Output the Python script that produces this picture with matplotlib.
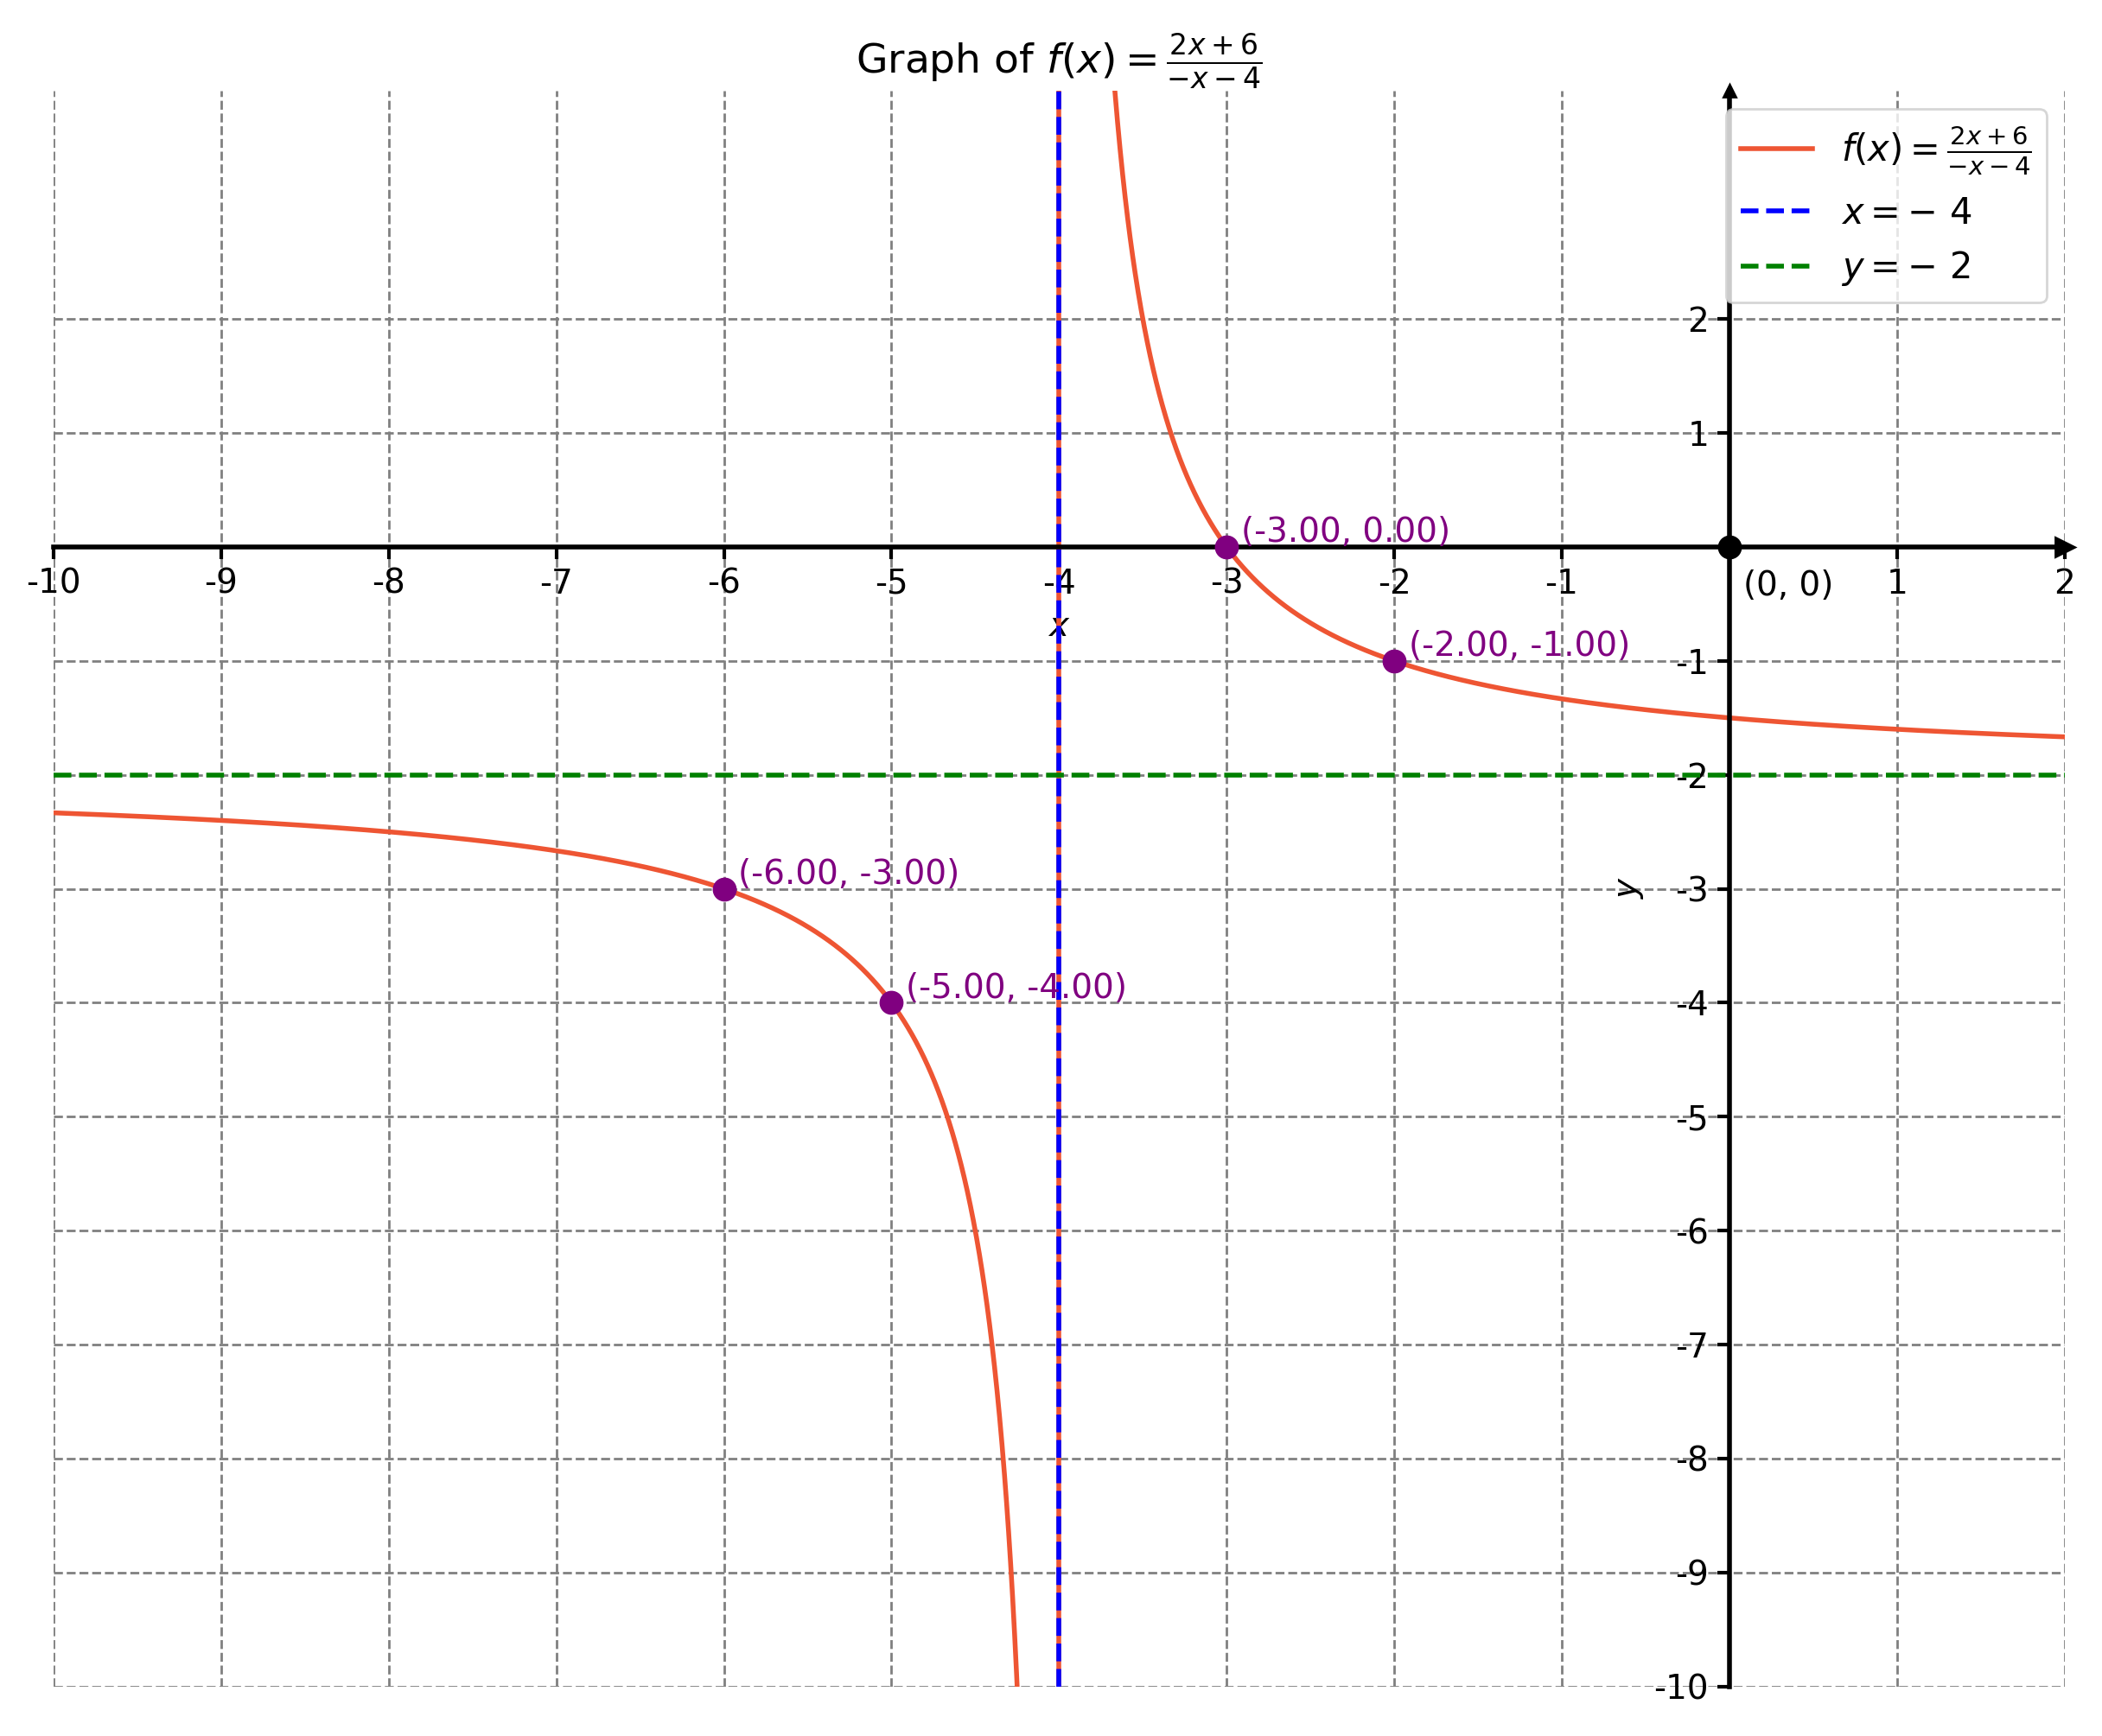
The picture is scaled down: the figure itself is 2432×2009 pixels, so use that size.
import numpy as np
import matplotlib.pyplot as plt

x_left = np.linspace(-10, -4.001, 2000)
x_right = np.linspace(-3.999, 2, 2000)
pts_x = [-3, -2, -6, -5]
pts_y = [0, -1, -3, -4]
xticks = list(range(-10, 3))
yticks = list(range(-10, 3))

def f(x):
    return (2*x + 6) / (-x - 4)

fig = plt.figure(figsize=(12.16, 10.045), dpi=200)
ax = fig.add_axes([40/1568, 1-1258/1295, 1500/1568, 1190/1295])
lab = r'$f(x) = \frac{2x + 6}{-x - 4}$'
ax.plot(x_left, f(x_left), color='#EE5533', lw=2, label=lab)
ax.plot(x_right, f(x_right), color='#EE5533', lw=2)
ax.axvline(-4, color='#EE5533', lw=2)
ax.axvline(-4, color='blue', ls='--', lw=2, label=r'$x = -\ 4$')
ax.axhline(-2, color='green', ls='--', lw=2, label=r'$y = -\ 2$')
for px, py in zip(pts_x, pts_y):
    ax.plot(px, py, 'o', color='purple', ms=9, zorder=5)
    ax.annotate(f'({px:.2f}, {py:.2f})', (px, py), xytext=(6, 2), textcoords='offset points',
                color='purple', fontsize=14)
ax.plot(0, 0, 'o', color='black', ms=9, zorder=5)
ax.annotate('(0, 0)', (0, 0), xytext=(6, -20), textcoords='offset points', fontsize=14)
ax.set_xlim(-10, 2)
ax.set_ylim(-10, 4)
ax.spines['left'].set_position('zero')
ax.spines['bottom'].set_position('zero')
ax.spines['right'].set_visible(False)
ax.spines['top'].set_visible(False)
for s in ['left', 'bottom']:
    ax.spines[s].set_linewidth(2)
ax.plot(1, 0, '>k', transform=ax.get_yaxis_transform(), clip_on=False, ms=8)
ax.plot(0, 1, '^k', transform=ax.get_xaxis_transform(), clip_on=False, ms=5)
ax.set_xticks([t for t in xticks if t != 0])
ax.set_yticks([t for t in yticks if t != 0])
ax.set_xticklabels([str(t) for t in xticks if t != 0], fontsize=14)
ax.set_yticklabels([str(t) for t in yticks if t != 0], fontsize=14)
ax.tick_params(width=1.5, length=5)
ax.grid(True, ls='--', color='gray', lw=1)
ax.set_xlabel('x', fontsize=14, style='italic')
ax.set_ylabel('y', fontsize=14, style='italic')
ax.set_title('Graph of ' + lab, fontsize=17)
ax.legend(loc='upper right', fontsize=15)
fig.savefig('out.png', dpi=200)
